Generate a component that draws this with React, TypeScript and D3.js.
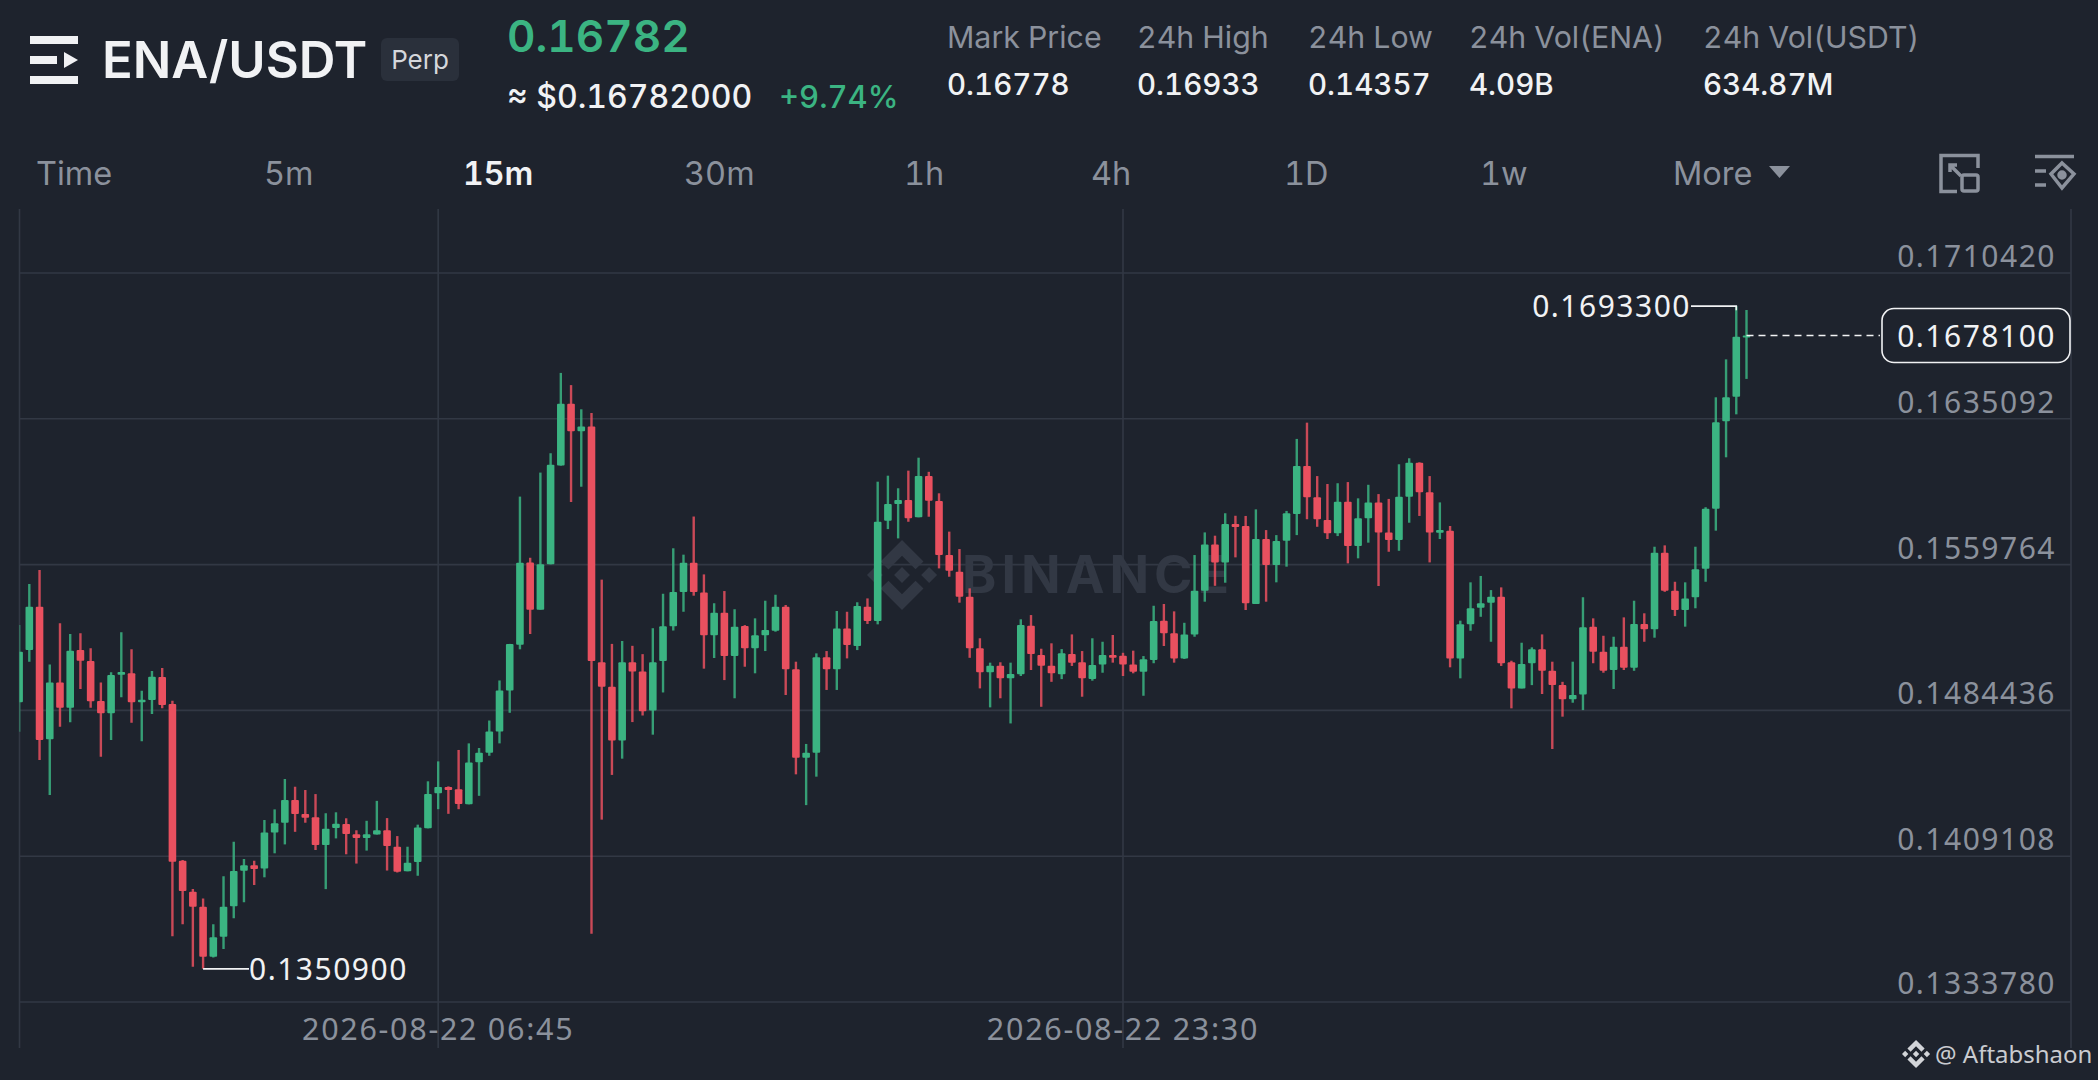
import React, { useEffect, useRef } from "react";
import * as d3 from "d3";

// 15m candles, oldest first
const opens = [
  0.14886,0.15156,0.15380,0.14695,0.14989,0.14858,0.15156,0.15099,0.14893,0.14829,
  0.15029,0.15036,0.14886,0.14898,0.15017,0.14877,0.14068,0.13907,0.13830,0.13572,
  0.13675,0.13833,0.14016,0.14044,0.14028,0.14214,0.14264,0.14381,0.14309,0.14292,
  0.14149,0.14237,0.14257,0.14205,0.14185,0.14203,0.14225,0.14140,0.14013,0.14061,
  0.14235,0.14416,0.14448,0.14437,0.14359,0.14577,0.14626,0.14735,0.14947,0.15184,
  0.15609,0.15365,0.15599,0.16109,0.16429,0.16287,0.16311,0.15093,0.14966,0.14689,
  0.15093,0.15045,0.14844,0.15100,0.15279,0.15456,0.15607,0.15454,0.15232,0.15349,
  0.15125,0.15280,0.15165,0.15232,0.15256,0.15380,0.15057,0.14600,0.14626,0.15119,
  0.15057,0.15268,0.15177,0.15380,0.15306,0.15824,0.15911,0.15931,0.15842,0.16055,
  0.15926,0.15647,0.15561,0.15432,0.15165,0.15041,0.15075,0.15010,0.15031,0.15282,
  0.15130,0.15075,0.15031,0.15136,0.15093,0.15006,0.15082,0.15130,0.15127,0.15082,
  0.15044,0.15105,0.15308,0.15243,0.15113,0.15237,0.15463,0.15702,0.15609,0.15807,
  0.15797,0.15394,0.15730,0.15595,0.15721,0.15859,0.16107,0.15945,0.15828,0.15759,
  0.15923,0.15694,0.15837,0.15919,0.15764,0.15725,0.15948,0.16124,0.15971,0.15762,
  0.15773,0.15113,0.15289,0.15375,0.15401,0.15432,0.15093,0.14958,0.15088,0.15160,
  0.15049,0.14975,0.14902,0.14927,0.15277,0.15147,0.15053,0.15173,0.15065,0.15291,
  0.15263,0.15659,0.15463,0.15363,0.15429,0.15576,0.15886,0.16338,0.16465,0.16775,
];
const highs = [
  0.15285,0.15497,0.15570,0.15082,0.15294,0.15239,0.15243,0.15165,0.14989,0.15041,
  0.15248,0.15160,0.14946,0.15048,0.15063,0.14894,0.14071,0.13921,0.13873,0.13739,
  0.13988,0.14166,0.14076,0.14068,0.14278,0.14333,0.14490,0.14450,0.14433,0.14412,
  0.14313,0.14318,0.14287,0.14225,0.14274,0.14377,0.14288,0.14195,0.14140,0.14254,
  0.14478,0.14581,0.14452,0.14640,0.14674,0.14650,0.14792,0.14999,0.15188,0.15949,
  0.15633,0.16073,0.16173,0.16588,0.16525,0.16400,0.16381,0.15520,0.15188,0.15203,
  0.15178,0.15135,0.15269,0.15447,0.15682,0.15649,0.15846,0.15547,0.15398,0.15461,
  0.15367,0.15285,0.15320,0.15411,0.15442,0.15389,0.15096,0.14671,0.15139,0.15151,
  0.15358,0.15354,0.15403,0.15423,0.16026,0.16057,0.15992,0.16083,0.16150,0.16077,
  0.15966,0.15768,0.15678,0.15475,0.15217,0.15091,0.15093,0.15091,0.15315,0.15337,
  0.15163,0.15191,0.15161,0.15237,0.15151,0.15217,0.15199,0.15234,0.15142,0.15153,
  0.15125,0.15385,0.15394,0.15356,0.15297,0.15647,0.15764,0.15747,0.15863,0.15850,
  0.15849,0.15883,0.15776,0.15750,0.15875,0.16247,0.16331,0.16055,0.16014,0.16018,
  0.16024,0.15940,0.16010,0.15962,0.15937,0.16116,0.16147,0.16126,0.16055,0.15919,
  0.15797,0.15308,0.15506,0.15539,0.15466,0.15480,0.15101,0.15194,0.15170,0.15237,
  0.15096,0.14992,0.15096,0.15429,0.15320,0.15230,0.15225,0.15325,0.15411,0.15346,
  0.15690,0.15697,0.15509,0.15506,0.15690,0.15894,0.16462,0.16658,0.16933,0.16913,
];
const lows = [
  0.14734,0.15096,0.14588,0.14407,0.14760,0.14783,0.14955,0.14858,0.14605,0.14691,
  0.14912,0.14781,0.14685,0.14826,0.14855,0.13678,0.13739,0.13520,0.13509,0.13568,
  0.13611,0.13770,0.13853,0.13942,0.13982,0.14106,0.14152,0.14217,0.14264,0.14123,
  0.13921,0.14183,0.14101,0.14053,0.14120,0.14203,0.14017,0.14007,0.14013,0.13990,
  0.14235,0.14334,0.14310,0.14334,0.14359,0.14403,0.14610,0.14674,0.14832,0.15160,
  0.15239,0.15365,0.15599,0.16109,0.15921,0.16000,0.13691,0.14280,0.14511,0.14595,
  0.14784,0.14818,0.14719,0.14937,0.15257,0.15354,0.15437,0.15060,0.15115,0.15001,
  0.14907,0.15070,0.15036,0.15151,0.15251,0.14924,0.14514,0.14355,0.14502,0.14950,
  0.14950,0.15113,0.15156,0.15291,0.15289,0.15781,0.15733,0.15819,0.15842,0.15845,
  0.15578,0.15535,0.15401,0.15116,0.14958,0.14860,0.14907,0.14777,0.15022,0.15053,
  0.14863,0.14992,0.15006,0.15074,0.14915,0.14998,0.15039,0.15091,0.15022,0.15036,
  0.14920,0.15088,0.15177,0.15091,0.15110,0.15225,0.15406,0.15488,0.15504,0.15635,
  0.15363,0.15394,0.15406,0.15506,0.15587,0.15750,0.15832,0.15793,0.15730,0.15745,
  0.15604,0.15630,0.15711,0.15487,0.15664,0.15669,0.15814,0.15849,0.15609,0.15730,
  0.15067,0.15010,0.15256,0.15328,0.15199,0.15074,0.14855,0.14958,0.14975,0.14929,
  0.14645,0.14812,0.14884,0.14846,0.15088,0.15039,0.14955,0.15053,0.15049,0.15199,
  0.15220,0.15457,0.15332,0.15277,0.15372,0.15509,0.15773,0.16152,0.16374,0.16557,
];
const closes = [
  0.15147,0.15380,0.14691,0.14989,0.14858,0.15153,0.15101,0.14891,0.14829,0.15027,
  0.15043,0.14886,0.14900,0.15018,0.14872,0.14062,0.13911,0.13830,0.13572,0.13672,
  0.13830,0.14014,0.14044,0.14025,0.14214,0.14261,0.14381,0.14309,0.14290,0.14149,
  0.14233,0.14259,0.14206,0.14185,0.14205,0.14225,0.14144,0.14011,0.14057,0.14239,
  0.14413,0.14448,0.14433,0.14361,0.14575,0.14626,0.14735,0.14947,0.15188,0.15607,
  0.15365,0.15599,0.16113,0.16429,0.16287,0.16311,0.15100,0.14966,0.14689,0.15093,
  0.15045,0.14840,0.15093,0.15279,0.15456,0.15607,0.15456,0.15232,0.15349,0.15125,
  0.15277,0.15165,0.15232,0.15260,0.15380,0.15057,0.14600,0.14626,0.15119,0.15057,
  0.15268,0.15182,0.15384,0.15306,0.15819,0.15911,0.15931,0.15837,0.16055,0.15928,
  0.15647,0.15566,0.15432,0.15165,0.15041,0.15075,0.15010,0.15032,0.15285,0.15136,
  0.15075,0.15036,0.15139,0.15091,0.15010,0.15079,0.15130,0.15116,0.15082,0.15044,
  0.15108,0.15306,0.15243,0.15113,0.15237,0.15463,0.15702,0.15609,0.15807,0.15792,
  0.15398,0.15730,0.15595,0.15720,0.15863,0.16107,0.15945,0.15832,0.15759,0.15923,
  0.15694,0.15837,0.15919,0.15764,0.15725,0.15948,0.16124,0.15971,0.15764,0.15776,
  0.15113,0.15289,0.15372,0.15398,0.15432,0.15088,0.14958,0.15084,0.15160,0.15049,
  0.14975,0.14902,0.14924,0.15274,0.15147,0.15049,0.15173,0.15065,0.15291,0.15263,
  0.15659,0.15463,0.15363,0.15423,0.15573,0.15886,0.16333,0.16462,0.16775,0.16781,
];

const priceTicks = [0.171042, 0.1635092, 0.1559764, 0.1484436, 0.1409108, 0.133378];
const firstCandle = new Date(2026, 7, 21, 20, 30);
const timeTicks = [new Date(2026, 7, 22, 6, 45), new Date(2026, 7, 22, 23, 30)];
const lastPrice = 0.16781;
const highPrice = 0.16933;
const lowPrice = 0.13509;

const statLabels = ["Mark Price", "24h High", "24h Low", "24h Vol(ENA)", "24h Vol(USDT)"];
const statValues = ["0.16778", "0.16933", "0.14357", "4.09B", "634.87M"];
const statX = [947, 1137, 1308, 1469, 1703];
const tabLabels = ["Time", "5m", "15m", "30m", "1h", "4h", "1D", "1w", "More"];
const tabX = [36, 264, 463, 684, 904, 1091, 1284, 1480, 1673];

const BG = "#1e232d";
const GRID = "#323844";
const GREEN = "#3bb482";
const RED = "#e9505f";
const GRAY = "#8b919c";
const WHITE = "#f1f2f4";
const LOGO =
  "M16.624 13.9202l2.7175 2.7154-7.353 7.353-7.353-7.352 2.7175-2.7164 4.6355 4.6595 4.6356-4.6595zm4.6366-4.6366L24 12l-2.7154 2.7164L18.5682 12l2.6924-2.7164zm-9.272.001l2.7163 2.6914-2.7164 2.7174v-.001L9.2721 12l2.7164-2.7154zm-9.2722-.001L5.4088 12l-2.6914 2.6924L0 12l2.7164-2.7164zM11.9885.0115l7.353 7.329-2.7174 2.7154-4.6356-4.6356-4.6355 4.6595-2.7174-2.7154 7.353-7.353z";

const App: React.FC = () => {
  const svgRef = useRef<SVGSVGElement | null>(null);

  useEffect(() => {
    const svg = d3.select(svgRef.current);
    svg.selectAll("*").remove();

    const width = 2098;
    const height = 1080;
    const left = 19.5;
    const right = 2071;
    const labelX = 2056;
    const sans = "Inter, 'Noto Sans', sans-serif";
    const axisFont = "'Noto Sans', 'Open Sans', sans-serif";

    const candles = opens.map((o, i) => ({
      time: d3.timeMinute.offset(firstCandle, i * 15),
      o,
      h: highs[i],
      l: lows[i],
      c: closes[i],
    }));

    const x = d3
      .scaleTime()
      .domain([candles[0].time, candles[candles.length - 1].time])
      .range([19.1, 1746.5]);
    const y = d3.scaleLinear().domain([0.133378, 0.171042]).range([1002, 273]);
    const fmtPrice = d3.format(".7f");
    const fmtTime = d3.timeFormat("%Y-%m-%d %H:%M");

    svg.append("rect").attr("width", width).attr("height", height).attr("fill", BG);

    const text = (
      s: string,
      px: number,
      py: number,
      size: number,
      fill: string,
      weight = 400,
      family = sans,
      anchor = "start",
      spacing = 0
    ) =>
      svg
        .append("text")
        .attr("x", px)
        .attr("y", py)
        .attr("font-family", family)
        .attr("font-size", size)
        .attr("font-weight", weight)
        .attr("fill", fill)
        .attr("text-anchor", anchor)
        .attr("letter-spacing", spacing)
        .style("font-variant-numeric", "tabular-nums")
        .text(s);

    // header
    const icon = svg.append("g").attr("fill", WHITE);
    icon.append("rect").attr("x", 30).attr("y", 36).attr("width", 48).attr("height", 8);
    icon.append("rect").attr("x", 30).attr("y", 56).attr("width", 27).attr("height", 8);
    icon.append("rect").attr("x", 30).attr("y", 76).attr("width", 48).attr("height", 8);
    icon.append("path").attr("d", "M64 52L78 60L64 68Z");

    text("ENA/USDT", 102, 78, 50.8, WHITE, 600);
    svg.append("rect").attr("x", 381).attr("y", 38).attr("width", 78).attr("height", 43).attr("rx", 6).attr("fill", "#2a303b");
    text("Perp", 420, 69, 26, "#d5d7db", 400, sans, "middle");

    text("0.16782", 507, 52, 44, GREEN, 600);
    text("\u2248 $0.16782000", 507, 108, 32, WHITE, 500);
    text("+9.74%", 779, 108, 31, GREEN, 500);

    statLabels.forEach((s, i) => text(s, statX[i], 48, 30.3, GRAY));
    statValues.forEach((s, i) => text(s, statX[i], 95, 29.5, WHITE, 500));

    tabLabels.forEach((s, i) =>
      s === "15m"
        ? text(s, tabX[i], 185, 32, WHITE, 600)
        : text(s, tabX[i], 185, 32.5, GRAY)
    );
    svg.append("path").attr("d", "M1769 166H1790L1779.5 178Z").attr("fill", GRAY);

    const tools = svg
      .append("g")
      .attr("fill", "none")
      .attr("stroke", GRAY)
      .attr("stroke-width", 3.5);
    tools.append("path").attr("d", "M1957 155.5H1941V191.5H1957M1941 155.5H1978V168");
    tools.append("rect").attr("x", 1962).attr("y", 175).attr("width", 16).attr("height", 16).attr("rx", 2);
    tools.append("path").attr("d", "M1950 165L1961 176M1950 172V165H1957");
    tools.append("path").attr("d", "M2035 156.5H2074M2035 171H2046M2035 185H2046");
    tools.append("path").attr("d", "M2062 163L2074 174L2062 188L2051 174Z");
    tools.append("circle").attr("cx", 2062).attr("cy", 175).attr("r", 3).attr("fill", GRAY);

    // grid
    const grid = svg.append("g").attr("stroke", GRID).attr("stroke-width", 1.6);
    priceTicks.forEach((p) => {
      grid.append("line").attr("x1", left).attr("x2", right).attr("y1", y(p)).attr("y2", y(p));
    });
    [x(timeTicks[0]), x(timeTicks[1])].forEach((px) => {
      grid.append("line").attr("x1", px).attr("x2", px).attr("y1", 209).attr("y2", 1048);
    });
    [left, right].forEach((px) => {
      grid.append("line").attr("x1", px).attr("x2", px).attr("y1", 209).attr("y2", 1048);
    });

    // watermark
    svg
      .append("path")
      .attr("d", LOGO)
      .attr("transform", "translate(867,540) scale(2.92)")
      .attr("fill", "#323844");
    text("BINANCE", 962, 593, 52, "#323844", 700, sans, "start", 5);

    // candles
    svg
      .append("clipPath")
      .attr("id", "plot")
      .append("rect")
      .attr("x", left)
      .attr("y", 209)
      .attr("width", right - left)
      .attr("height", 840);
    const plot = svg.append("g").attr("clip-path", "url(#plot)");
    const bodyW = 7.6;

    plot
      .selectAll("line")
      .data(candles)
      .enter()
      .append("line")
      .attr("x1", (d) => x(d.time))
      .attr("x2", (d) => x(d.time))
      .attr("y1", (d) => y(d.h))
      .attr("y2", (d) => y(d.l))
      .attr("stroke", (d) => (d.c >= d.o ? GREEN : RED))
      .attr("stroke-opacity", 0.85)
      .attr("stroke-width", 2.4);

    plot
      .selectAll("rect")
      .data(candles)
      .enter()
      .append("rect")
      .attr("x", (d) => x(d.time) - bodyW / 2)
      .attr("y", (d) => y(Math.max(d.o, d.c)))
      .attr("width", bodyW)
      .attr("height", (d) => Math.max(2, Math.abs(y(d.o) - y(d.c))))
      .attr("rx", 1)
      .attr("fill", (d) => (d.c >= d.o ? GREEN : RED));

    // axis labels
    priceTicks.forEach((p, i) =>
      text(fmtPrice(p), labelX, y(p) - (i === 5 ? 8 : 6), 30, GRAY, 400, axisFont, "end", 1.5)
    );
    timeTicks.forEach((t) =>
      text(fmtTime(t), x(t), 1040, 30.5, GRAY, 400, axisFont, "middle", 1.7)
    );

    // high / low markers
    const hiIdx = d3.maxIndex(highs);
    const loIdx = d3.minIndex(lows);
    svg
      .append("path")
      .attr("d", `M1691 ${y(highPrice)}H${x(candles[hiIdx].time)}V${y(highPrice) + 4}`)
      .attr("fill", "none")
      .attr("stroke", WHITE)
      .attr("stroke-width", 1.6);
    text(fmtPrice(highPrice), 1691, y(highPrice) + 11, 30, WHITE, 400, axisFont, "end", 1.5);
    svg
      .append("path")
      .attr("d", `M${x(candles[loIdx].time)} ${y(lowPrice)}H249`)
      .attr("fill", "none")
      .attr("stroke", WHITE)
      .attr("stroke-width", 1.6);
    text(fmtPrice(lowPrice), 249, y(lowPrice) + 11, 30, WHITE, 400, axisFont, "start", 1.5);

    // last price
    svg
      .append("line")
      .attr("x1", x(candles[candles.length - 1].time))
      .attr("x2", 1880)
      .attr("y1", y(lastPrice))
      .attr("y2", y(lastPrice))
      .attr("stroke", WHITE)
      .attr("stroke-width", 1.4)
      .attr("stroke-dasharray", "7 5");
    svg
      .append("rect")
      .attr("x", 1882)
      .attr("y", y(lastPrice) - 27)
      .attr("width", 188)
      .attr("height", 54)
      .attr("rx", 12)
      .attr("fill", BG)
      .attr("stroke", WHITE)
      .attr("stroke-width", 1.6);
    text(fmtPrice(lastPrice), labelX, y(lastPrice) + 11, 30, WHITE, 400, axisFont, "end", 1.5);

    // footer credit
    svg
      .append("path")
      .attr("d", LOGO)
      .attr("transform", "translate(1902,1040) scale(1.17)")
      .attr("fill", "#d2d4d8");
    text("@ Aftabshaon", 1935, 1063, 24, "#c9cbd0", 400, axisFont);
  }, []);

  return (
    <svg
      ref={svgRef}
      width={2098}
      height={1080}
      style={{ position: "fixed", left: 0, top: 0, display: "block" }}
    />
  );
};

export default App;
